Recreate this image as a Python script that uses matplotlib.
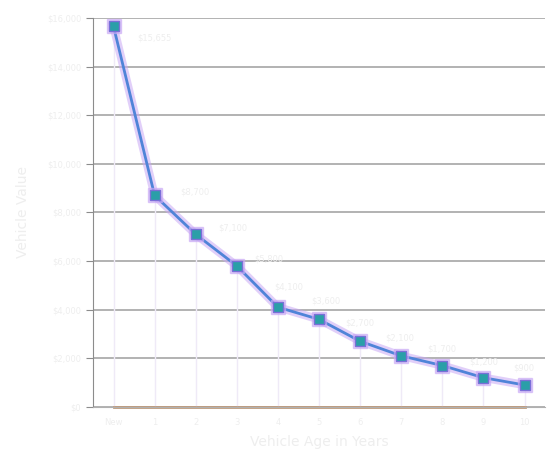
import numpy as np
import matplotlib
matplotlib.use('Agg')
import matplotlib.pyplot as plt

# vehicle value by age
ages = ['New', '1', '2', '3', '4', '5', '6', '7', '8', '9', '10']
values = [15655, 8700, 7100, 5800, 4100, 3600, 2700, 2100, 1700, 1200, 900]
labels = ['$15,655', '$8,700', '$7,100', '$5,800', '$4,100', '$3,600',
          '$2,700', '$2,100', '$1,700', '$1,200', '$900']
baseline = [0] * len(ages)

# label offsets in pixels (right, up)
label_off = [(41, -12), (40, 3), (37, 6), (32, 7), (11, 20), (7, 18),
             (0, 18), (-1, 18), (0, 17), (0, 16), (-1, 17)]

txt = '#eeeeee'
x = np.arange(len(ages))

fig = plt.figure(figsize=(5.5, 4.72), dpi=100)
ax = fig.add_axes([0.169, 0.138, 0.822, 0.824])

ax.set_xlim(-0.5, len(ages) - 0.5)
ax.set_ylim(0, 16000)
ax.set_yticks(np.arange(0, 16001, 2000))
ax.yaxis.grid(True, color='#a6a6a6', linewidth=1.2)
ax.set_axisbelow(True)

# faint drop lines
ax.vlines(x, 0, values, color='#efeaf7', linewidth=1, zorder=1)

# zero series
ax.plot(x, baseline, color='#c09a7a', linewidth=2, zorder=2, clip_on=False)

# glow under line
ax.plot(x, values, color='#c9a8f5', linewidth=6, alpha=0.55, zorder=3,
        solid_joinstyle='round')
ax.plot(x, values, color='#4f84d8', linewidth=2, zorder=4)
ax.plot(x, values, linestyle='none', marker='s', markersize=10,
        color='#c9a8f5', alpha=0.6, zorder=5)
ax.plot(x, values, linestyle='none', marker='s', markersize=6.5,
        markerfacecolor='#2a9fa8', markeredgecolor='#7a6fd8', zorder=6)

for i, (v, lab) in enumerate(zip(values, labels)):
    dx, dy = label_off[i]
    ax.annotate(lab, (x[i], v), xytext=(dx * 0.72, dy * 0.72),
                textcoords='offset points', fontsize=6, color=txt,
                ha='center', va='center')

ax.set_xticks(x)
ax.set_xticklabels(ages)
ax.yaxis.set_major_formatter(matplotlib.ticker.StrMethodFormatter('${x:,.0f}'))
ax.tick_params(axis='y', colors='#8c8c8c', labelcolor=txt, labelsize=6,
               length=5, direction='out')
ax.tick_params(axis='x', length=0, labelcolor=txt, labelsize=6, pad=8)

for s in ['top', 'right']:
    ax.spines[s].set_visible(False)
ax.spines['left'].set_color('#8c8c8c')
ax.spines['bottom'].set_color('#b0b0b0')

ax.set_xlabel('Vehicle Age in Years', color=txt, fontsize=10, labelpad=6)
ax.set_ylabel('Vehicle Value', color=txt, fontsize=10, labelpad=12)

fig.savefig('out.png', dpi=100)
